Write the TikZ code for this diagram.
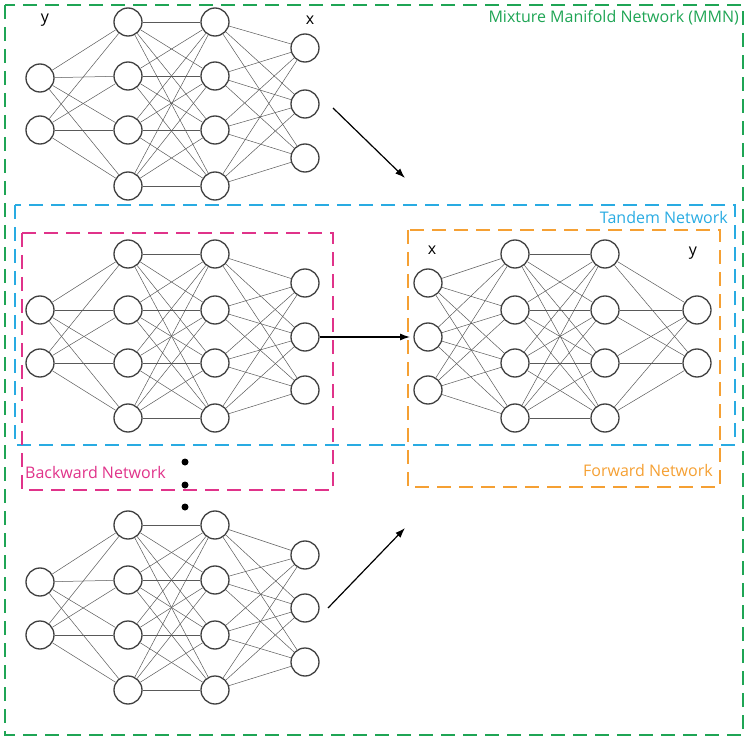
\documentclass[tikz,border=0pt]{standalone}
\usepackage{fontspec}
\setmainfont{Open Sans}
\usetikzlibrary{arrows.meta}
\definecolor{mgreen}{HTML}{1FA555}
\definecolor{mblue}{HTML}{29ABE2}
\definecolor{mpink}{HTML}{E0338A}
\definecolor{morange}{HTML}{F5A033}
\tikzset{
  neuron/.style={circle,draw=black!75,line width=1.3pt,minimum size=28pt,inner sep=0pt,fill=white},
  edge/.style={draw=black!65,line width=0.5pt},
  box/.style={line width=1.3pt,dash pattern=on 14pt off 8pt},
  lbl/.style={font=\fontsize{16pt}{18pt}\selectfont,inner sep=0pt},
  arr/.style={-{Latex[length=10pt,width=7pt]},line width=1.2pt}
}
\newcommand\drawnet[9]{%
  \foreach \yy [count=\i] in {#6} \node[neuron] (#1a\i) at (#2,\yy) {};
  \foreach \yy [count=\i] in {#7} \node[neuron] (#1b\i) at (#3,\yy) {};
  \foreach \yy [count=\i] in {#7} \node[neuron] (#1c\i) at (#4,\yy) {};
  \foreach \yy [count=\i] in {#8} \node[neuron] (#1d\i) at (#5,\yy) {};
  \foreach \i in {1,...,#9} \foreach \j in {1,...,4} \draw[edge] (#1a\i) -- (#1b\j);
  \foreach \i in {1,...,4} \foreach \j in {1,...,4} \draw[edge] (#1b\i) -- (#1c\j);
}
\newcommand\lastlayer[2]{%
  \foreach \i in {1,...,4} \foreach \j in {1,...,#2} \draw[edge] (#1c\i) -- (#1d\j);
}
\begin{document}
\begin{tikzpicture}[x=1pt,y=-1pt]
\useasboundingbox (0,0) rectangle (748,741);
\drawnet{T}{40}{128}{215}{305}{78,130}{22,76,130,186}{48,104,158}{2}
\lastlayer{T}{3}
\drawnet{B}{40}{128}{215}{305}{310,363}{254,310,363,418}{283,337,390}{2}
\lastlayer{B}{3}
\drawnet{L}{40}{128}{215}{305}{582,635}{525,580,635,690}{555,608,662}{2}
\lastlayer{L}{3}
\drawnet{F}{428}{515}{605}{697}{283,337,390}{254,310,363,418}{310,363}{3}
\lastlayer{F}{2}
\node[lbl] (ty) at (45,20) {y};
\node[lbl] (tx) at (310,20) {x};
\node[lbl] (fx) at (432,250) {x};
\node[lbl] (fy) at (693,253) {y};
\draw[box,mgreen] (5,5) rectangle (743,735);
\node[lbl,text=mgreen,anchor=east] (mmn) at (739,18) {Mixture Manifold Network (MMN)};
\draw[box,mblue] (15,205) rectangle (735,445);
\node[lbl,text=mblue,anchor=east] (tn) at (728,218) {Tandem Network};
\draw[box,mpink] (22,233) rectangle (333,490);
\node[lbl,text=mpink,anchor=west] (bn) at (25,472) {Backward Network};
\draw[box,morange] (408,230) rectangle (720,487);
\node[lbl,text=morange,anchor=east] (fn) at (713,470) {Forward Network};
\foreach \yy [count=\i] in {462,485,507} \fill (185,\yy) circle (3.5pt);
\coordinate (a1s) at (333,108); \coordinate (a1e) at (405,178);
\coordinate (a2e) at (410,337);
\coordinate (a3s) at (328,608); \coordinate (a3e) at (405,528);
\draw[arr] (a1s) -- (a1e);
\draw[arr] (Bd2) -- (a2e);
\draw[arr] (a3s) -- (a3e);
\end{tikzpicture}
\end{document}
